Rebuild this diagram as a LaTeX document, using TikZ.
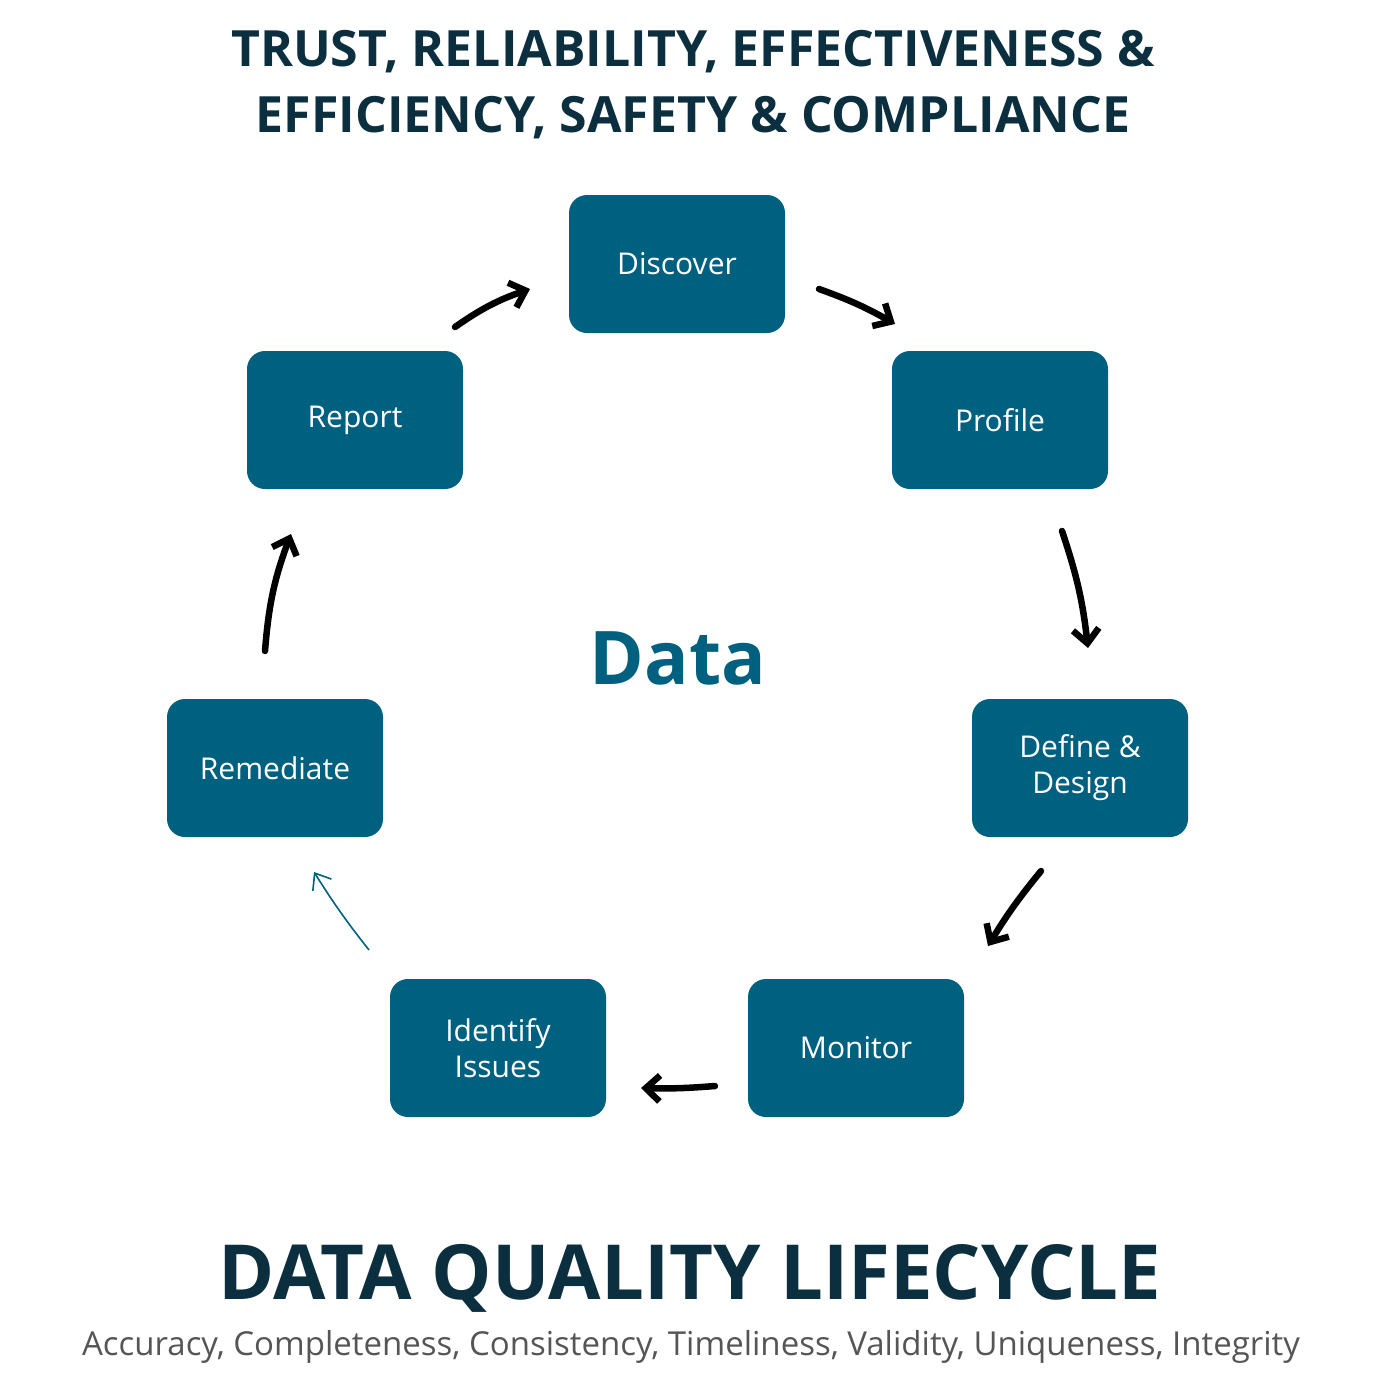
\documentclass[tikz,border=0pt]{standalone}
\usepackage{fontspec}
\setmainfont{Open Sans}
\usetikzlibrary{arrows.meta}
\definecolor{boxc}{HTML}{00607F}
\definecolor{navy}{HTML}{0B2F3E}
\definecolor{greyt}{HTML}{555555}
\tikzset{
  stage/.style={fill=boxc,rounded corners=18pt,minimum width=216pt,minimum height=138pt,text=white,font=\fontsize{30}{36}\selectfont,align=center,inner sep=0pt},
  flow/.style={line width=6.5pt,line cap=round,-{Straight Barb[length=14pt,width=26pt,line width=6.5pt]}},
  thinflow/.style={boxc,line width=1.6pt,-{Straight Barb[length=14pt,width=22pt,line width=1.6pt]}}
}
\begin{document}
\begin{tikzpicture}[x=1pt,y=-1pt]
\useasboundingbox (0,0) rectangle (1392,1389);
\node[font=\fontsize{50}{66}\selectfont\bfseries,text=navy,align=center] (title) at (693,85) {TRUST, RELIABILITY, EFFECTIVENESS \&\\EFFICIENCY, SAFETY \& COMPLIANCE};
\node[stage] (disc) at (677,264) {Discover};
\node[stage] (prof) at (1000,420) {Profile};
\node[stage] (rep) at (355,420) {Report};
\node[stage] (def) at (1080,768) {Define \&\\Design};
\node[stage] (rem) at (275,768) {Remediate};
\node[stage] (mon) at (856,1048) {Monitor};
\node[stage] (idi) at (498,1048) {Identify\\Issues};
\node[font=\fontsize{74}{80}\selectfont\bfseries,text=boxc] (data) at (678,658) {Data};
\node[font=\fontsize{76}{80}\selectfont\bfseries,text=navy] (dql) at (690,1278) {DATA QUALITY LIFECYCLE};
\node[font=\fontsize{33}{36}\selectfont,text=greyt] (sub) at (691,1347) {Accuracy, Completeness, Consistency, Timeliness, Validity, Uniqueness, Integrity};
\coordinate (a1) at (455,327); \coordinate (a2) at (530,289);
\coordinate (b1) at (819,289); \coordinate (b2) at (895,324);
\coordinate (c1) at (1062,531); \coordinate (c2) at (1088,648);
\coordinate (d1) at (1041,871); \coordinate (d2) at (988,946);
\coordinate (e1) at (715,1086); \coordinate (e2) at (641,1088);
\coordinate (f1) at (369,950); \coordinate (f2) at (314,872);
\coordinate (g1) at (265,651); \coordinate (g2) at (291,534);
\draw[flow] (a1) to[bend left=8] (a2);
\draw[flow] (b1) to[bend left=5] (b2);
\draw[flow] (c1) to[bend left=6] (c2);
\draw[flow] (d1) to[bend right=4] (d2);
\draw[flow] (e1) to[bend left=3] (e2);
\draw[thinflow] (f1) to[bend left=3] (f2);
\draw[flow] (g1) to[bend left=8] (g2);
\end{tikzpicture}
\end{document}
